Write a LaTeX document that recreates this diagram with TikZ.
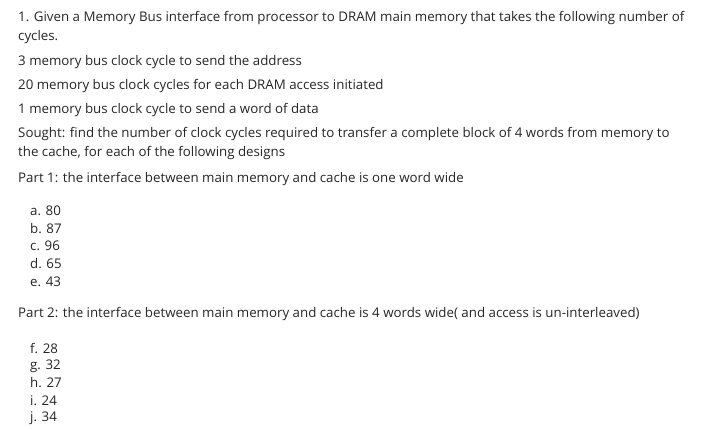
\documentclass[tikz,border=0pt]{standalone}
\usepackage{fontspec}
\setmainfont{Open Sans}
\begin{document}
\begin{tikzpicture}[x=1pt,y=1pt,t/.style={anchor=west,inner sep=0pt,font=\fontsize{13.3}{15}\selectfont,text=black!85}]
\useasboundingbox[fill=white] (0,0) rectangle (707,-429);
\node[t] (l1) at (18,-18) {1. Given a Memory Bus interface from processor to DRAM main memory that takes the following number of};
\node[t] (l2) at (18,-37) {cycles.};
\node[t] (l3) at (18,-62) {3 memory bus clock cycle to send the address};
\node[t] (l4) at (18,-86) {20 memory bus clock cycles for each DRAM access initiated};
\node[t] (l5) at (18,-110) {1 memory bus clock cycle to send a word of data};
\node[t] (l6) at (18,-134) {Sought: find the number of clock cycles required to transfer a complete block of 4 words from memory to};
\node[t] (l7) at (18,-153) {the cache, for each of the following designs};
\node[t] (l8) at (18,-179) {Part 1: the interface between main memory and cache is one word wide};
\node[t] (a) at (30,-211) {a. 80};
\node[t] (b) at (30,-229) {b. 87};
\node[t] (c) at (30,-246) {c. 96};
\node[t] (d) at (30,-264) {d. 65};
\node[t] (e) at (30,-282) {e. 43};
\node[t] (l9) at (18,-314) {Part 2: the interface between main memory and cache is 4 words wide( and access is un-interleaved)};
\node[t] (f) at (30,-348) {f. 28};
\node[t] (g) at (30,-366) {g. 32};
\node[t] (h) at (30,-383) {h. 27};
\node[t] (i) at (30,-401) {i. 24};
\node[t] (j) at (30,-418) {j. 34};
\end{tikzpicture}
\end{document}
